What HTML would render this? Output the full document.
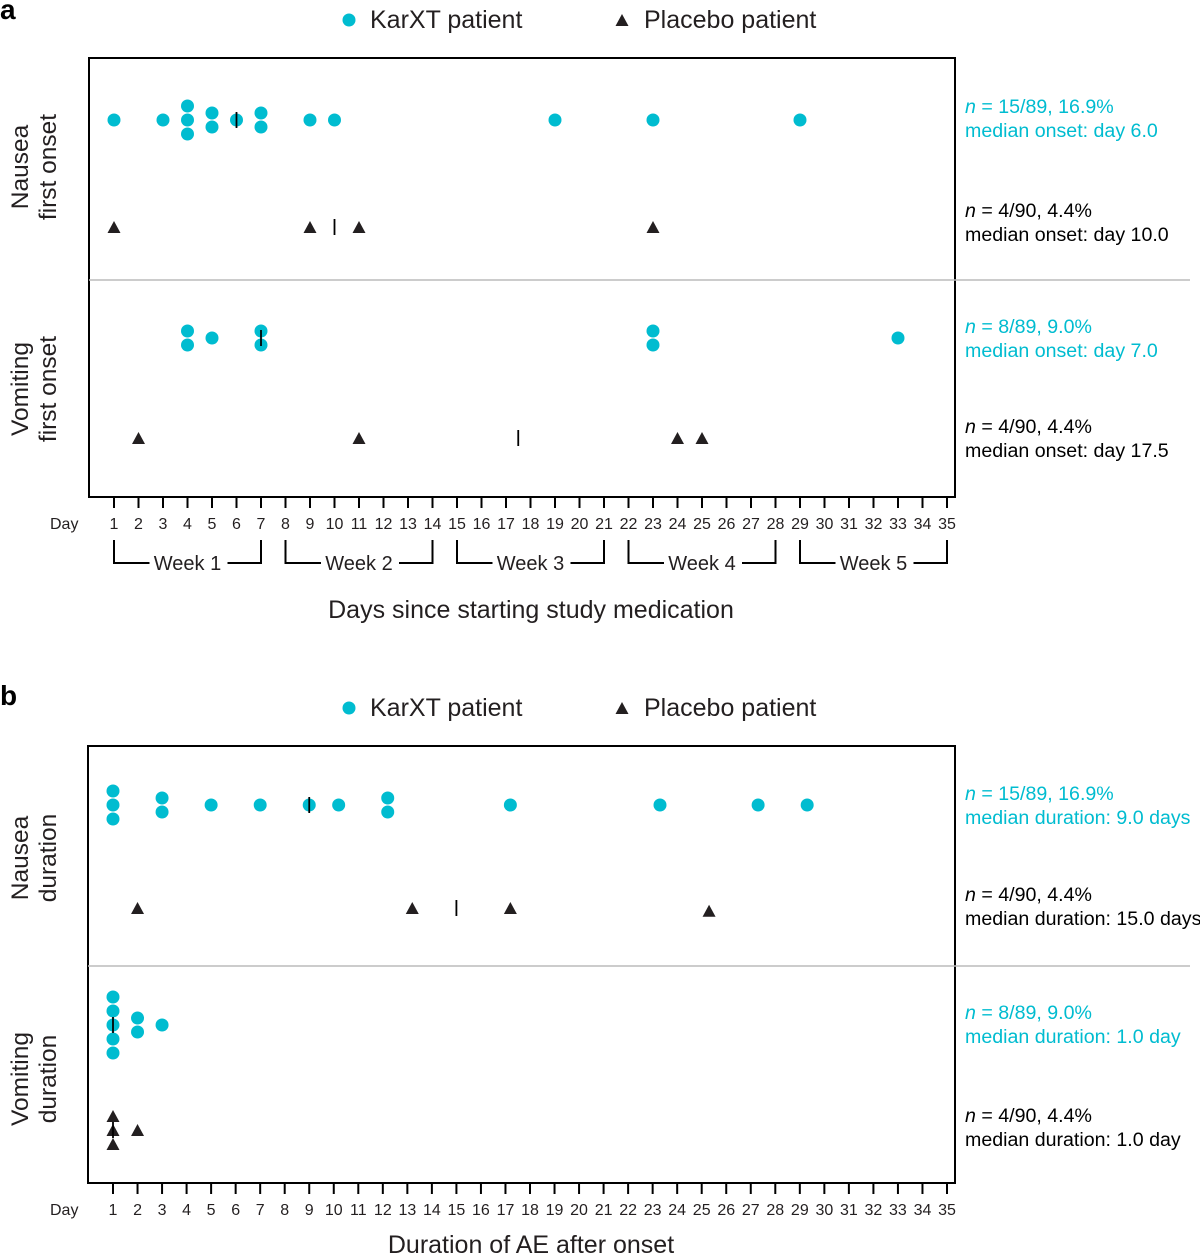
<!DOCTYPE html>
<html><head><meta charset="utf-8"><style>
body{margin:0;background:#fff}
svg{display:block;font-family:"Liberation Sans",Arial,sans-serif}
</style></head><body>
<svg id="c" width="1200" height="1255" viewBox="0 0 1200 1255"></svg>
<script>
// ---- Data ----
const aNauseaKarDays = [1,3,4,4,4,5,5,6,7,7,9,10,19,23,29];
const aNauseaKarSlots = [0,0,-1,0,1,-0.5,0.5,0,-0.5,0.5,0,0,0,0,0];
const aNauseaPlaDays = [1,9,11,23];
const aNauseaPlaSlots = [0,0,0,0];
const aVomKarDays = [4,4,5,7,7,23,23,33];
const aVomKarSlots = [-0.5,0.5,0,-0.5,0.5,-0.5,0.5,0];
const aVomPlaDays = [2,11,24,25];
const aVomPlaSlots = [0,0,0,0];
const aMedians = [6.0,10.0,7.0,17.5];
const bNauseaKarDays = [1,1,1,3,3,5,7,9,10.2,12.2,12.2,17.2,23.3,27.3,29.3];
const bNauseaKarSlots = [-1,0,1,-0.5,0.5,0,0,0,0,-0.5,0.5,0,0,0,0];
const bNauseaPlaDays = [2,13.2,17.2,25.3];
const bNauseaPlaSlots = [0,0,0,0.2];
const bVomKarDays = [1,1,1,1,1,2,2,3];
const bVomKarSlots = [-2,-1,0,1,2,-0.5,0.5,0];
const bVomPlaDays = [1,1,1,2];
const bVomPlaSlots = [-1,0,1,0];
const bMedians = [9.0,15.0,1.0,1.0];
const dayTicks = Array.from({length:35},(_,i)=>i+1);
const weekLabels = ["Week 1","Week 2","Week 3","Week 4","Week 5"];
const statsA = [
 ["15/89, 16.9%","median onset: day 6.0",true],
 ["4/90, 4.4%","median onset: day 10.0",false],
 ["8/89, 9.0%","median onset: day 7.0",true],
 ["4/90, 4.4%","median onset: day 17.5",false]];
const statsB = [
 ["15/89, 16.9%","median duration: 9.0 days",true],
 ["4/90, 4.4%","median duration: 15.0 days",false],
 ["8/89, 9.0%","median duration: 1.0 day",true],
 ["4/90, 4.4%","median duration: 1.0 day",false]];

const TEAL="#00bcd0", DARK="#231f20";
const svg=document.getElementById('c');
const NS="http://www.w3.org/2000/svg";
function mk(tag,attrs,parent,text){const e=document.createElementNS(NS,tag);for(const k in attrs)e.setAttribute(k,attrs[k]);if(text!==undefined)e.textContent=text;(parent||svg).appendChild(e);return e;}

function panel(P){
  const g=mk('g',{});
  
  
  const x=d=>P.x1+(d-1)*(P.x35-P.x1)/34;
  const SL=14;
  const lt=mk('text',{x:0,y:P.letterY,'font-size':28,'font-weight':'bold',fill:'#000'},g,P.letter);
  
  const lg=mk('g',{},g);
  
  const ly=P.top-38;
  mk('circle',{cx:349,cy:ly,r:6.5,fill:TEAL},lg);
  mk('text',{x:370,y:ly+8,'font-size':25,fill:'#231f20'},lg,'KarXT patient');
  mk('path',{d:`M${622-6.5},${ly+6}L622,${ly-6}L${622+6.5},${ly+6}Z`,fill:DARK},lg);
  mk('text',{x:644,y:ly+8,'font-size':25,fill:'#231f20'},lg,'Placebo patient');
  const bx=mk('rect',{x:P.bx0,y:P.top,width:P.bx1-P.bx0,height:P.bot-P.top,fill:'none',stroke:'#000','stroke-width':2},g);
  
  mk('line',{x1:P.bx0,x2:1190,y1:P.sep,y2:P.sep,stroke:'#bbb','stroke-width':1.5},g);
  mk('text',{x:50,y:P.bot+32,'font-size':16,fill:'#231f20'},g,'Day');
  dayTicks.forEach(d=>{
    mk('line',{x1:x(d),x2:x(d),y1:P.bot,y2:P.bot+11,stroke:'#000','stroke-width':2},g);
    const t=mk('text',{x:x(d),y:P.bot+32,'font-size':16,'text-anchor':'middle',fill:'#231f20'},g,String(d));
    
  });
  P.rows.forEach((r,i)=>{
    r.days.forEach((d,j)=>{
      const cy=r.y+r.slots[j]*SL;
      let m;
      if(r.kar) m=mk('circle',{cx:x(d),cy:cy,r:6.5,fill:TEAL},g);
      else m=mk('path',{d:`M${x(d)-6.5},${cy+6}L${x(d)},${cy-6}L${x(d)+6.5},${cy+6}Z`,fill:DARK},g);
      
      
    });
    const md=mk('line',{x1:x(P.medians[i]),x2:x(P.medians[i]),y1:r.y-8,y2:r.y+8,stroke:'#000','stroke-width':1.8},g);
    
    const s=P.stats[i];const col=s[2]?TEAL:'#000';
    const st=mk('text',{x:965,y:r.sy,'font-size':19.6,fill:col},g);
    
    mk('tspan',{'font-style':'italic'},st,'n');mk('tspan',{},st,' = '+s[0]);
    const st2=mk('text',{x:965,y:r.sy+24,'font-size':19.6,fill:col},g,s[1]);
    
  });
  P.ytitles.forEach(t=>{
    const yt=mk('text',{transform:`translate(${28},${t.cy}) rotate(-90)`,'font-size':24.5,'text-anchor':'middle',fill:'#231f20'},g);
    
    mk('tspan',{x:0,dy:0},yt,t.a);mk('tspan',{x:0,dy:28},yt,t.b);
  });
  if(P.weeks){
    weekLabels.forEach((w,k)=>{
      const a=x(1+7*k),b=x(7+7*k),m=(a+b)/2,yb=P.bot+66;
      mk('path',{d:`M${a},${P.bot+43}V${yb}H${m-38}M${m+40},${yb}H${b}V${P.bot+43}`,fill:'none',stroke:'#000','stroke-width':2},g);
      const wt=mk('text',{x:m,y:yb+7,'font-size':20,'text-anchor':'middle',fill:'#231f20'},g,w);
      
    });
  }
  const xt=mk('text',{x:P.xtx,y:P.xty,'font-size':25,'text-anchor':'middle',fill:'#231f20'},g,P.xtitle);
  
}

panel({name:'panel-a-onset',letter:'a',letterY:19,top:58,bot:497,sep:280,bx0:89,bx1:955,x1:114,x35:947,
  medians:aMedians,stats:statsA,weeks:true,xtitle:'Days since starting study medication',xtx:531,xty:618,
  rows:[{days:aNauseaKarDays,slots:aNauseaKarSlots,y:120,kar:true,sy:113},
        {days:aNauseaPlaDays,slots:aNauseaPlaSlots,y:227,kar:false,sy:217},
        {days:aVomKarDays,slots:aVomKarSlots,y:338,kar:true,sy:333},
        {days:aVomPlaDays,slots:aVomPlaSlots,y:438,kar:false,sy:433}],
  ytitles:[{cy:167,a:'Nausea',b:'first onset'},{cy:389,a:'Vomiting',b:'first onset'}]});
panel({name:'panel-b-duration',letter:'b',letterY:705,top:746,bot:1183,sep:966,bx0:88,bx1:955,x1:113,x35:947,
  medians:bMedians,stats:statsB,weeks:false,xtitle:'Duration of AE after onset',xtx:531,xty:1253,
  rows:[{days:bNauseaKarDays,slots:bNauseaKarSlots,y:805,kar:true,sy:800},
        {days:bNauseaPlaDays,slots:bNauseaPlaSlots,y:908,kar:false,sy:901},
        {days:bVomKarDays,slots:bVomKarSlots,y:1025,kar:true,sy:1019},
        {days:bVomPlaDays,slots:bVomPlaSlots,y:1130,kar:false,sy:1122}],
  ytitles:[{cy:858,a:'Nausea',b:'duration'},{cy:1079,a:'Vomiting',b:'duration'}]});
</script>
</body></html>
